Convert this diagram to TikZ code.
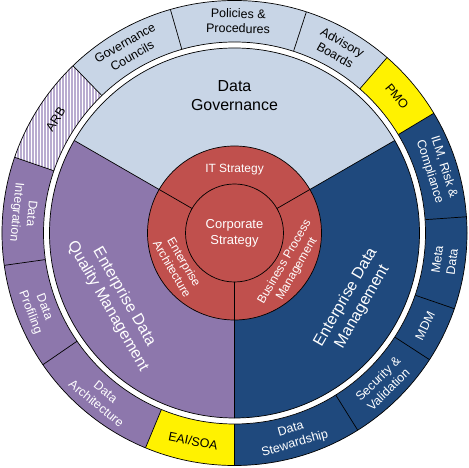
\documentclass[tikz,border=0pt]{standalone}
\usepackage{fontspec}
\setmainfont{Liberation Sans}
\usetikzlibrary{patterns.meta}

\definecolor{govblue}{RGB}{200,213,230}
\definecolor{dqpurple}{RGB}{141,119,172}
\definecolor{edmblue}{RGB}{31,73,125}
\definecolor{stratred}{RGB}{192,80,77}
\definecolor{arbhatch}{RGB}{185,172,208}

\begin{document}
\begin{tikzpicture}[x=1bp, y=1bp,
    rim/.style={line width=0.7bp},
    outerlbl/.style={font=\fontsize{12.5}{15}\selectfont, align=center},
    midlbl/.style={font=\fontsize{16}{19}\selectfont, align=center},
    corelbl/.style={font=\fontsize{12}{14}\selectfont, align=center, text=white}]
    \useasboundingbox (-234.5,-235) rectangle (234.5,233);

    % outer ring
    \fill[white] (0,0) -- (134:232.5) arc[start angle=134, end angle=161, radius=232.5] -- cycle;
    \fill[pattern={Lines[angle=90, distance=3bp, line width=1.3bp]}, pattern color=arbhatch]
        (0,0) -- (134:232.5) arc[start angle=134, end angle=161, radius=232.5] -- cycle;
    \fill[govblue] (0,0) -- (49:232.5) arc[start angle=49, end angle=134, radius=232.5] -- cycle;
    \fill[yellow] (0,0) -- (31:232.5) arc[start angle=31, end angle=49, radius=232.5] -- cycle;
    \fill[edmblue] (0,0) -- (-90:232.5) arc[start angle=-90, end angle=31, radius=232.5] -- cycle;
    \fill[yellow] (0,0) -- (247.5:232.5) arc[start angle=247.5, end angle=270, radius=232.5] -- cycle;
    \fill[dqpurple] (0,0) -- (161:232.5) arc[start angle=161, end angle=247.5, radius=232.5] -- cycle;
    \draw[rim] (161:191) -- (161:232.5) (134:191) -- (134:232.5) (106:191) -- (106:232.5)
        (72:191) -- (72:232.5) (49:191) -- (49:232.5) (31:191) -- (31:232.5)
        (4:191) -- (4:232.5) (-19:191) -- (-19:232.5) (-33:191) -- (-33:232.5)
        (-58:191) -- (-58:232.5) (-90:191) -- (-90:232.5) (247.5:191) -- (247.5:232.5)
        (214.5:191) -- (214.5:232.5) (188:191) -- (188:232.5);
    \draw[rim] (0,0) circle[radius=232.5];
    \draw[rim, fill=white] (0,0) circle[radius=191];

    % middle ring
    \fill[govblue] (0,0) -- (30:185) arc[start angle=30, end angle=150, radius=185] -- cycle;
    \fill[dqpurple] (0,0) -- (150:185) arc[start angle=150, end angle=270, radius=185] -- cycle;
    \fill[edmblue] (0,0) -- (270:185) arc[start angle=270, end angle=390, radius=185] -- cycle;
    \draw[rim] (0,0) circle[radius=185];

    % strategy core
    \draw[rim, fill=stratred] (0,0) circle[radius=87];
    \draw[rim] (0,0) circle[radius=49];
    \draw[rim] (30:49) -- (30:185) (150:49) -- (150:185) (270:49) -- (270:185);

    % outer labels
    \node[outerlbl, rotate=57.5] (arb) at (147.5:212) {ARB};
    \node[outerlbl, rotate=30] (councils) at (120:212) {Governance\\Councils};
    \node[outerlbl, rotate=-1] (policies) at (89:212) {Policies \&\\Procedures};
    \node[outerlbl, rotate=-29.5] (advisory) at (60.5:212) {Advisory\\Boards};
    \node[outerlbl, rotate=-50] (pmo) at (40:212) {PMO};
    \node[outerlbl, text=white, rotate=-72.5] (ilm) at (17.5:212) {ILM, Risk \&\\Compliance};
    \node[outerlbl, text=white, rotate=82.5] (meta) at (-7.5:212) {Meta\\Data};
    \node[outerlbl, text=white, rotate=64] (mdm) at (-26:212) {MDM};
    \node[outerlbl, text=white, rotate=44.5] (security) at (-45.5:212) {Security \&\\Validation};
    \node[outerlbl, text=white, rotate=16] (steward) at (-74:212) {Data\\Stewardship};
    \node[outerlbl, rotate=-11.25] (eai) at (258.75:212) {EAI/SOA};
    \node[outerlbl, text=white, rotate=-39] (dataarch) at (231:212) {Data\\Architecture};
    \node[outerlbl, text=white, rotate=-68.75] (profiling) at (201.25:212) {Data\\Profiling};
    \node[outerlbl, text=white, rotate=-95.5] (integration) at (174.5:212) {Data\\Integration};

    % middle labels
    \node[midlbl] (gov) at (90:137) {Data\\Governance};
    \node[midlbl, text=white, rotate=-60] (edqm) at (210:137) {Enterprise Data\\Quality Management};
    \node[midlbl, text=white, rotate=60] (edm) at (-30:138) {Enterprise Data\\Management};

    % core labels
    \node[corelbl] (itstrat) at (90:63) {IT Strategy};
    \node[corelbl, rotate=-60] (entarch) at (210:65) {Enterprise\\Architecture};
    \node[corelbl, rotate=60] (bpm) at (-30:65) {Business Process\\Management};
    \node[corelbl, font=\fontsize{13}{16}\selectfont] (corp) at (0,0) {Corporate\\Strategy};
\end{tikzpicture}
\end{document}
